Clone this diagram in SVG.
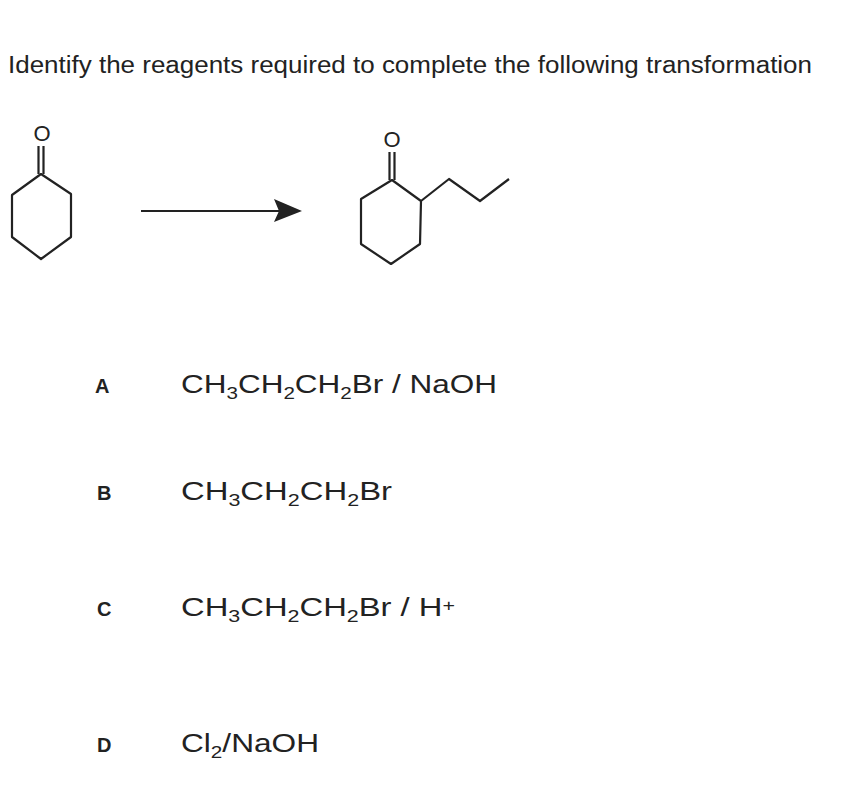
<svg xmlns="http://www.w3.org/2000/svg" width="844" height="810" viewBox="0 0 844 810">
<style>
.b{fill:none;stroke:#222;stroke-width:2.2;stroke-linejoin:round}
.t{font-family:"Liberation Sans",Arial,sans-serif;fill:#222}
.f{font-family:"Liberation Sans",Arial,sans-serif;font-size:26px;fill:#222}
.l{font-family:"Liberation Sans",Arial,sans-serif;font-size:20px;font-weight:bold;fill:#222}
</style>
<rect width="844" height="810" fill="#fff"/>
<text class="t" x="8" y="73" font-size="23" fill="#1f2a36" textLength="804" lengthAdjust="spacingAndGlyphs">Identify the reagents required to complete the following transformation</text>
<g id="reactant">
<path class="b" d="M41,174 L71,194 L71,237 L41,259 L12,237 L12,195 Z"/>
<path class="b" d="M38.5,174 V146 M43.5,174 V146"/>
<text class="t" x="42" y="141" font-size="22" text-anchor="middle">O</text>
</g>
<g id="product">
<path class="b" d="M392,180 L421,201 L420,244 L391,264 L361,244 L361,199 Z M421,201 L449,179 L480,201 L509,179"/>
<path class="b" d="M389.5,180 V152 M394.5,180 V152"/>
<text class="t" x="392" y="147" font-size="22" text-anchor="middle">O</text>
</g>
<g id="connectors">
<line class="b" x1="141" y1="211" x2="285" y2="211"/>
<path d="M274,199 L302,211 L274,222 L279,211 Z" fill="#222"/>
</g>
<g id="options">
<text class="l" x="95" y="393">A</text>
<text class="f" x="181" y="393" textLength="316" lengthAdjust="spacingAndGlyphs">CH<tspan font-size="17" dy="6">3</tspan><tspan dy="-6">CH</tspan><tspan font-size="17" dy="6">2</tspan><tspan dy="-6">CH</tspan><tspan font-size="17" dy="6">2</tspan><tspan dy="-6">Br / NaOH</tspan></text>
<text class="l" x="97" y="500">B</text>
<text class="f" x="181" y="500" textLength="211" lengthAdjust="spacingAndGlyphs">CH<tspan font-size="17" dy="6">3</tspan><tspan dy="-6">CH</tspan><tspan font-size="17" dy="6">2</tspan><tspan dy="-6">CH</tspan><tspan font-size="17" dy="6">2</tspan><tspan dy="-6">Br</tspan></text>
<text class="l" x="97" y="616">C</text>
<text class="f" x="181" y="616" textLength="274" lengthAdjust="spacingAndGlyphs">CH<tspan font-size="17" dy="6">3</tspan><tspan dy="-6">CH</tspan><tspan font-size="17" dy="6">2</tspan><tspan dy="-6">CH</tspan><tspan font-size="17" dy="6">2</tspan><tspan dy="-6">Br / H</tspan><tspan font-size="17" dy="-5">+</tspan></text>
<text class="l" x="97" y="752">D</text>
<text class="f" x="181" y="752" textLength="138" lengthAdjust="spacingAndGlyphs">Cl<tspan font-size="17" dy="6">2</tspan><tspan dy="-6">/NaOH</tspan></text>
</g>
</svg>
